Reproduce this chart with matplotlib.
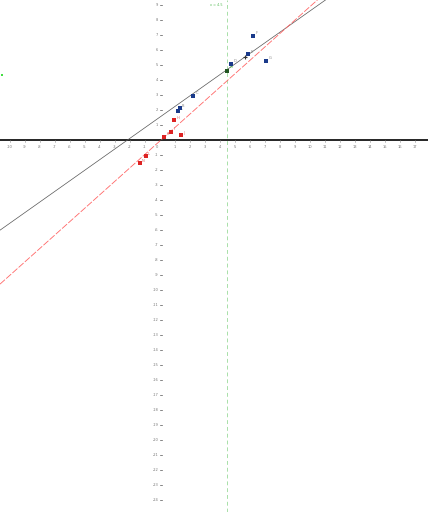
import numpy as np
import matplotlib
matplotlib.use("Agg")
import matplotlib.pyplot as plt

# data
blue_x = [6.22, 5.87, 7.10, 4.73, 2.22, 1.31, 1.18]
blue_y = [6.95, 5.73, 5.29, 5.09, 2.95, 2.13, 1.93]
blue_labels = ["F", "E", "G", "D", "C", "B", "A"]

red_x = [0.96, 0.76, 1.40, 0.27, -0.95, -1.35]
red_y = [1.33, 0.55, 0.33, 0.22, -1.07, -1.55]
red_labels = ["H", "I", "J", "K", "L", "N"]

mean_pt = (5.67, 5.51)
mid_pt = (4.50, 4.60)

# fitted lines: y = a*x + b
black_a, black_b = 0.707, 1.53
red_a, red_b = 0.895, -0.06
vline_x = 4.5

x_ticks = list(range(-10, 18))
y_ticks = [t for t in range(-24, 10) if t != 0]

fig = plt.figure(figsize=(4.28, 5.12), dpi=100)
ax = fig.add_axes([0, 0, 1, 1])
x0, x1 = -10.67, 17.87
y0, y1 = -24.8, 9.33
ax.set_xlim(x0, x1)
ax.set_ylim(y0, y1)
ax.axis("off")

# x axis
ax.axhline(0, color="black", lw=1.2)
for t in x_ticks:
    if t == 0:
        continue
    ax.plot([t, t], [0, -0.12], color="#888888", lw=0.4)
    ax.text(t, -0.35, str(t), fontsize=2.6, color="#777777", ha="center", va="top")
ax.text(-0.15, -0.35, "0", fontsize=2.6, color="#777777", ha="right", va="top")

# y axis ticks and labels (no axis line)
for t in y_ticks:
    ax.plot([0, 0.12], [t, t], color="#555555", lw=0.5)
    ax.text(-0.12, t, str(t), fontsize=2.6, color="#777777", ha="right", va="center")

# vertical dashed guide
ax.axvline(vline_x, color="#a8e0a8", lw=0.7, ls=(0, (4, 3)))
ax.text(vline_x - 0.3, 8.9, "x = 4.5", fontsize=2.4, color="#55bb55", ha="right")

xs = np.array([x0, x1])
ax.plot(xs, black_a * xs + black_b, color="#555555", lw=0.5)
ax.plot(xs, red_a * xs + red_b, color="#ff6666", lw=0.6, ls=(0, (8, 2)))

ax.scatter(blue_x, blue_y, marker="s", s=6, color="#1a3a8a", zorder=5, linewidths=0)
for x, y, lab in zip(blue_x, blue_y, blue_labels):
    ax.text(x + 0.15, y + 0.1, lab, fontsize=2.6, color="#888888")

ax.scatter(red_x, red_y, marker="s", s=6, color="#dd2222", zorder=5, linewidths=0)
for x, y, lab in zip(red_x, red_y, red_labels):
    ax.text(x + 0.15, y + 0.1, lab, fontsize=2.6, color="#dd6666")

ax.plot(*mean_pt, marker="+", ms=3, color="#333333", mew=0.8, zorder=6)
ax.scatter([mid_pt[0]], [mid_pt[1]], marker="s", s=6, color="#225522", zorder=6, linewidths=0)
ax.text(mid_pt[0] + 0.15, mid_pt[1] + 0.2, "M", fontsize=2.6, color="#44bb44")

ax.scatter([-10.52], [4.3], marker="s", s=2, color="#44dd44", zorder=6, linewidths=0)

fig.savefig("out.png", dpi=100)
